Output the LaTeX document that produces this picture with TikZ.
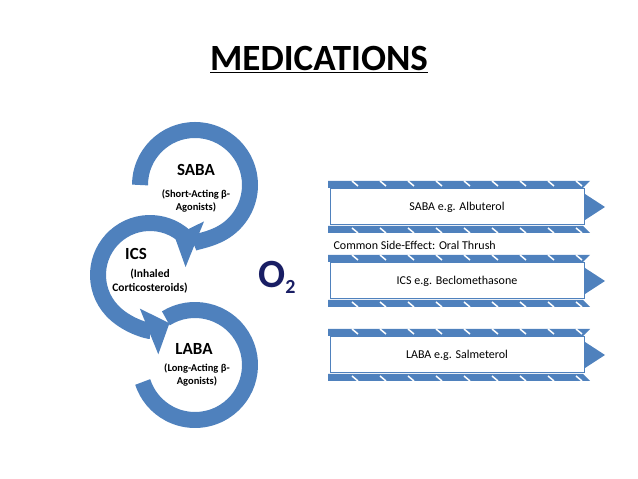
\documentclass[tikz,border=0pt]{standalone}
\usepackage{fontspec}
\setmainfont{Carlito}
\usetikzlibrary{arrows.meta}
\definecolor{rb}{RGB}{79,129,189}
\definecolor{navy}{RGB}{25,30,100}
\tikzset{
 ring/.style={rb,line width=16pt},
 ringarrow/.style={ring,-{Triangle[width=48pt,length=22pt]}},
 lbl/.style={font=\fontsize{10.5}{12.5}\selectfont\bfseries,align=center},
 head/.style={font=\fontsize{17}{19}\selectfont\bfseries},
 boxtxt/.style={font=\fontsize{12}{14}\selectfont}
}
\newcommand{\medbox}[3]{%
 \fill[rb] (328,#1+26) -- (590,#1+26) -- (583,#1+19) -- (328,#1+19) -- cycle;
 \fill[rb] (328,#1-26) -- (590,#1-26) -- (583,#1-19) -- (328,#1-19) -- cycle;
 \foreach \k in {0,...,8} {\draw[white,line width=1.5pt] (352+28*\k,#1+26) -- (358+28*\k,#1+21);
   \draw[white,line width=1.5pt] (352+28*\k,#1-21) -- (358+28*\k,#1-26);}
 \fill[rb] (585,#1+13) -- (605,#1) -- (585,#1-13) -- cycle;
 \draw[rb,fill=white,line width=1pt] (330,#1+18) rectangle (584,#1-18);
 \node[boxtxt] (#3) at (457,#1) {#2};
}
\begin{document}
\begin{tikzpicture}[x=1pt,y=1pt]
\useasboundingbox (0,0) rectangle (638,479);
\node[font=\fontsize{37}{40}\selectfont\bfseries] (title) at (319,419) {\underline{MEDICATIONS}};
% rings
\draw[ringarrow] ([shift={(180:55)}]195,294) arc[start angle=180,end angle=-112,radius=55];
\draw[ringarrow] ([shift={(42:52)}]150,204) arc[start angle=42,end angle=292,radius=52];
\draw[ring] ([shift={(122:55)}]195,114) arc[start angle=122,end angle=-162,radius=55];
\node[head] (saba) at (196,309) {SABA};
\node[lbl] (sabad) at (196,278) {(Short-Acting β-\\Agonists)};
\node[head] (ics) at (136,225) {ICS};
\node[lbl,font=\fontsize{11.5}{13.5}\selectfont\bfseries] (icsd) at (150,198) {(Inhaled\\Corticosteroids)};
\node[head] (laba) at (194,130) {LABA};
\node[lbl] (labad) at (197,104) {(Long-Acting β-\\Agonists)};
\node[navy,font=\fontsize{40}{42}\selectfont\bfseries] (o2) at (277,202) {O\raisebox{-6pt}{\fontsize{20}{20}\selectfont 2}};
\medbox{272}{SABA e.g. Albuterol}{b1}
\medbox{198}{ICS e.g. Beclomethasone}{b2}
\medbox{124}{LABA e.g. Salmeterol}{b3}
\node[boxtxt,anchor=west] (se) at (330,234) {Common Side-Effect: Oral Thrush};
\end{tikzpicture}
\end{document}
